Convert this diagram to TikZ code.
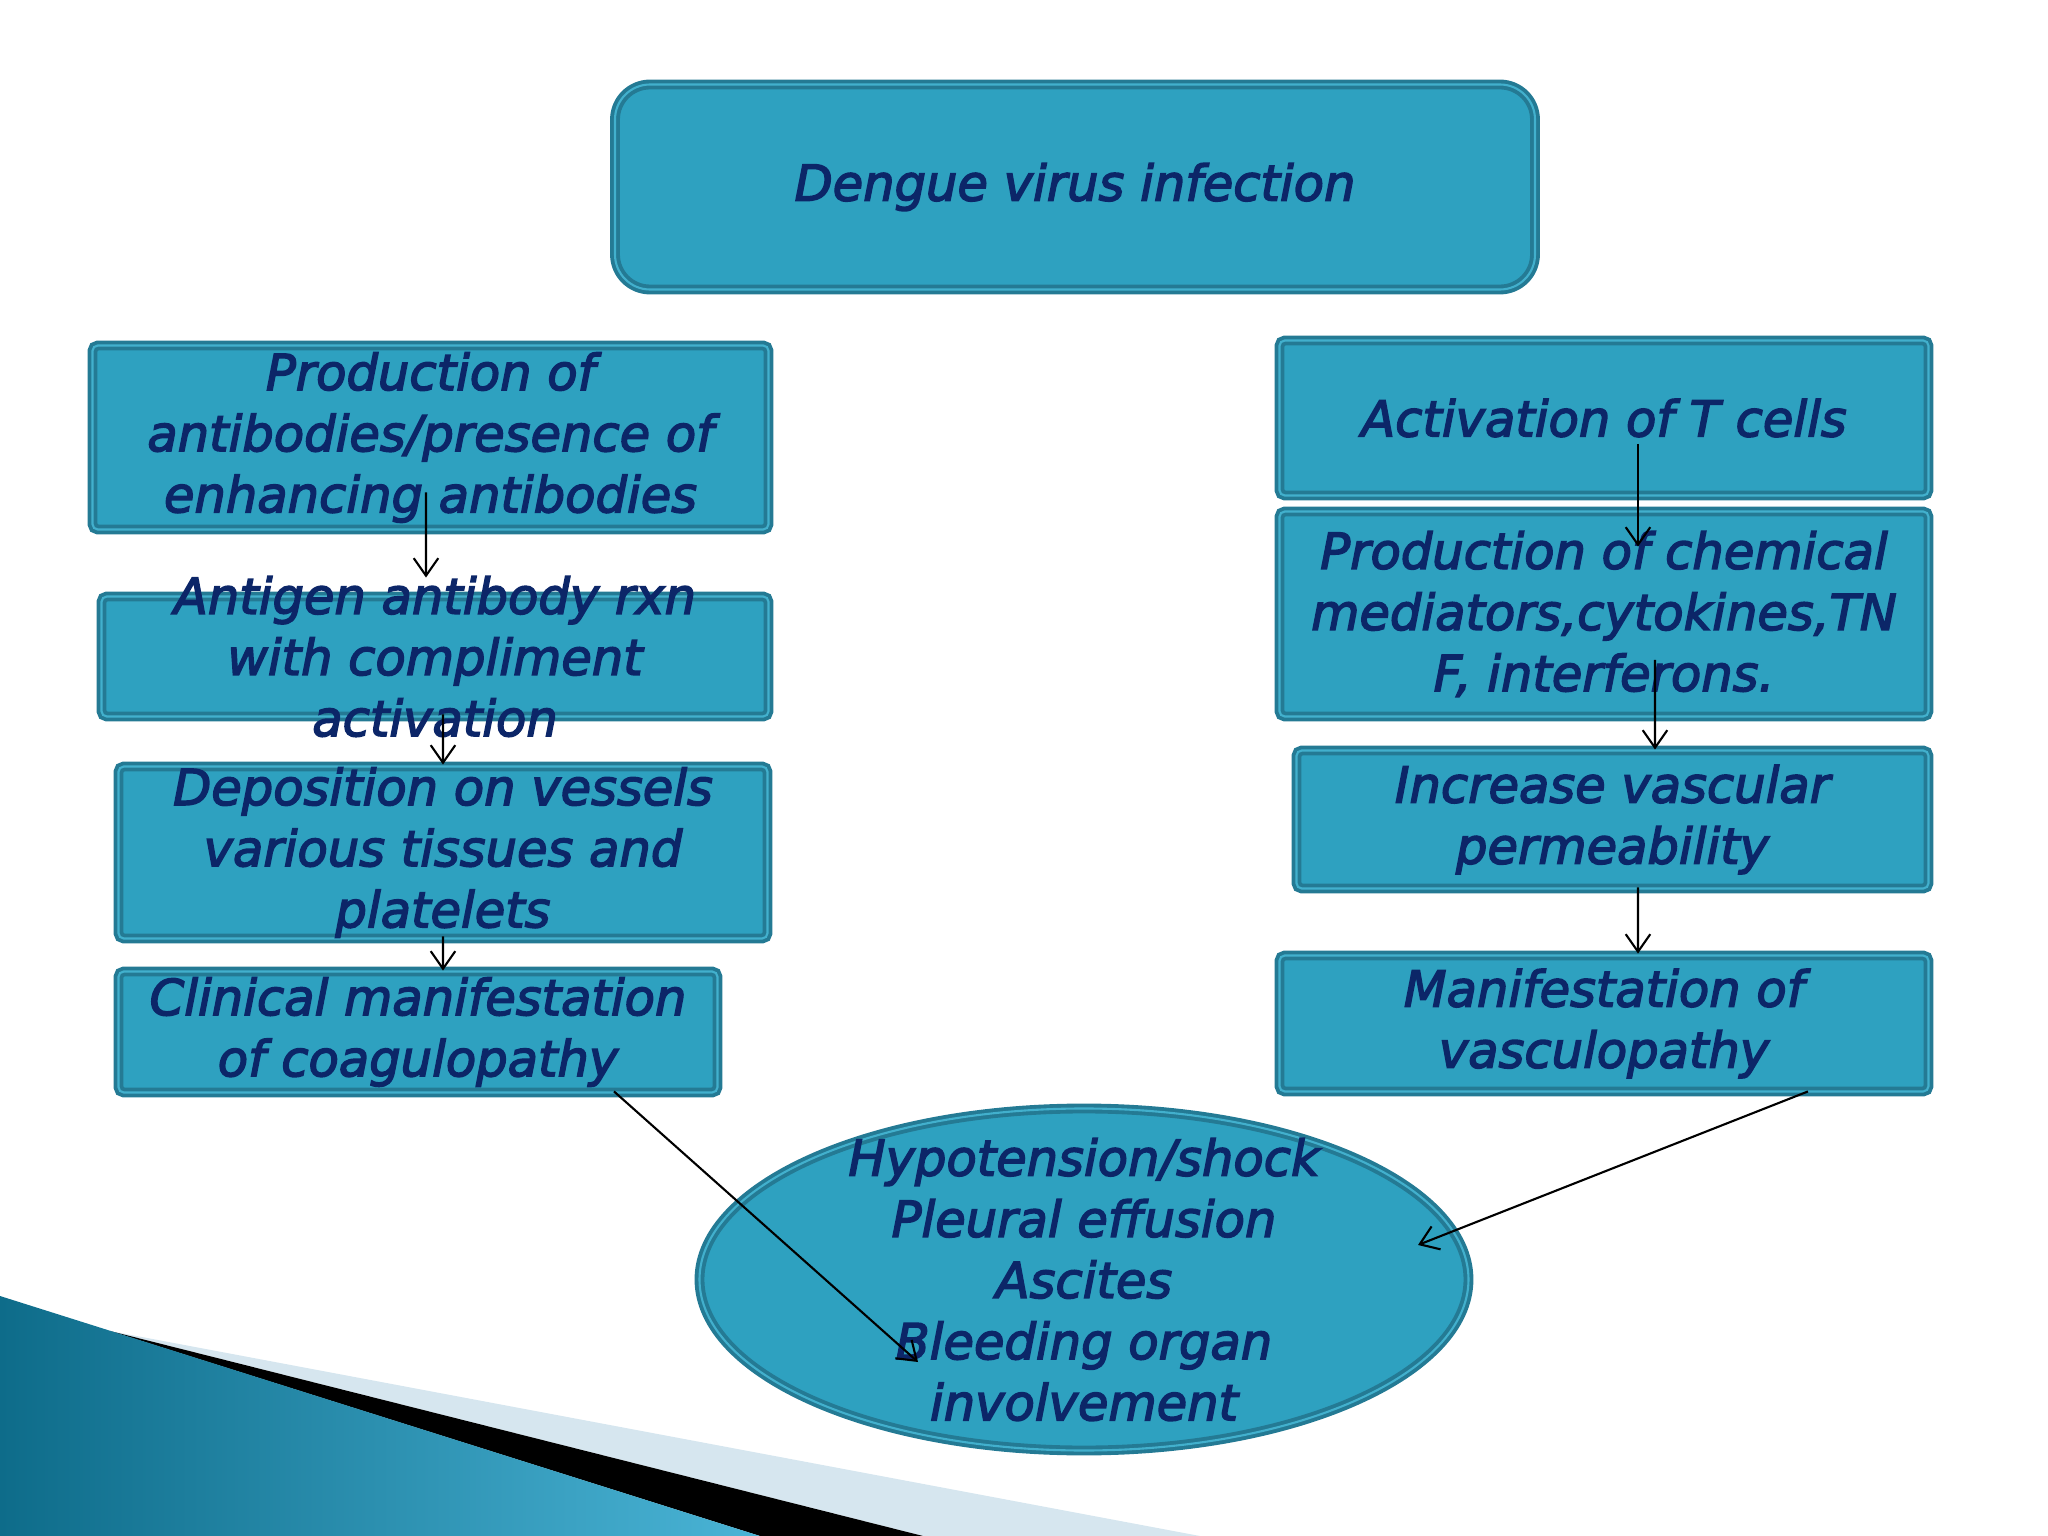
\documentclass[tikz,border=0pt]{standalone}
\usepackage{fontspec}
\setmainfont{DejaVu Sans}
\newfontfamily\boxfont{DejaVu Sans}[FakeBold=3, ItalicFeatures={FakeBold=3}]
\usetikzlibrary{arrows.meta,shapes.geometric}
\definecolor{boxfill}{RGB}{46,161,192}
\definecolor{boxedge}{RGB}{36,122,148}
\definecolor{boxline}{RGB}{66,176,205}
\definecolor{boxtextcol}{RGB}{12,38,104}
\definecolor{decodark}{RGB}{14,108,138}
\definecolor{decolight}{RGB}{74,180,214}
\definecolor{decopale}{RGB}{214,230,239}

\begin{document}
\begin{tikzpicture}[
    x=1cm, y=-1cm,
    flowbox/.style={rectangle, draw=boxedge, fill=boxfill, line width=1.1pt, double=boxline, double distance=0.6pt, rounded corners=1.5pt, inner sep=0pt},
    boxtext/.style={text=boxtextcol, font=\boxfont\fontsize{14.1}{17.4}\selectfont\itshape, align=center, inner sep=0pt},
    flowarrow/.style={-{Straight Barb[length=5pt,width=7pt]}, line width=0.6pt, black}
]
    \useasboundingbox (0,0) rectangle (20.48,15.36);

    \fill[decopale] (1.10,13.31) -- (12.00,15.36) -- (9.23,15.36) -- cycle;
    \fill[black] (1.10,13.31) -- (9.23,15.36) -- (7.60,15.36) -- cycle;
    \shade[left color=decodark, right color=decolight] (0,12.96) -- (7.60,15.36) -- (0,15.36) -- cycle;

    \node[flowbox, rounded corners=0.35cm, minimum width=9.2cm, minimum height=2.05cm,
        label={[boxtext]center:{Dengue virus infection}}] (dengue) at (10.75,1.87) {};

    \node[flowbox, minimum width=6.76cm, minimum height=1.84cm,
        label={[boxtext]center:{Production of\\antibodies/presence of\\enhancing antibodies}}] (antibody) at (4.305,4.375) {};
    \node[flowbox, minimum width=6.67cm, minimum height=1.2cm,
        label={[boxtext]center:{Antigen antibody rxn\\with compliment\\activation}}] (antigen) at (4.35,6.565) {};
    \node[flowbox, minimum width=6.49cm, minimum height=1.72cm,
        label={[boxtext]center:{Deposition on vessels\\various tissues and\\platelets}}] (deposition) at (4.43,8.525) {};
    \node[flowbox, minimum width=5.99cm, minimum height=1.21cm,
        label={[boxtext]center:{Clinical manifestation\\of coagulopathy}}] (coag) at (4.18,10.32) {};

    \node[flowbox, minimum width=6.49cm, minimum height=1.55cm,
        label={[boxtext]center:{Activation of T cells}}] (tcells) at (16.04,4.18) {};
    \node[flowbox, minimum width=6.49cm, minimum height=2.05cm,
        label={[boxtext]center:{Production of chemical\\mediators,cytokines,TN\\F, interferons.}}] (mediators) at (16.04,6.14) {};
    \node[flowbox, minimum width=6.32cm, minimum height=1.38cm,
        label={[boxtext]center:{Increase vascular\\permeability}}] (permeab) at (16.125,8.195) {};
    \node[flowbox, minimum width=6.49cm, minimum height=1.36cm,
        label={[boxtext]center:{Manifestation of\\vasculopathy}}] (vasculo) at (16.04,10.235) {};

    \node[flowbox, ellipse, minimum width=7.69cm, minimum height=3.42cm,
        label={[boxtext]center:{Hypotension/shock\\Pleural effusion\\Ascites\\Bleeding organ\\involvement}}] (shock) at (10.84,12.795) {};

    \draw[flowarrow] ([shift={(-0.045,-0.39)}]antibody.south) -- ([shift={(-0.09,-0.17)}]antigen.north);
    \draw[flowarrow] ([shift={(0.08,-0.04)}]antigen.south) -- (deposition.north);
    \draw[flowarrow] ([shift={(0,-0.04)}]deposition.south) -- ([shift={(0.25,0.01)}]coag.north);
    \draw[flowarrow] ([shift={(1.96,-0.03)}]coag.south) -- ([shift={(-1.66,0.825)}]shock.center);

    \draw[flowarrow] ([shift={(0.34,0.26)}]tcells.center) -- ([shift={(0.34,0.37)}]mediators.north);
    \draw[flowarrow] ([shift={(0.51,0.46)}]mediators.center) -- ([shift={(0.425,0.01)}]permeab.north);
    \draw[flowarrow] ([shift={(0.255,-0.03)}]permeab.south) -- ([shift={(0.34,0)}]vasculo.north);
    \draw[flowarrow] ([shift={(2.04,-0.02)}]vasculo.south) -- ([shift={(3.34,-0.345)}]shock.center);
\end{tikzpicture}
\end{document}
